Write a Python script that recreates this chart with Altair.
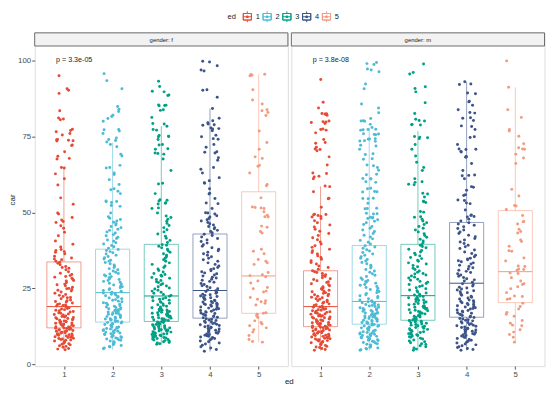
import math
import altair as alt
import pandas as pd

ED = [1, 2, 3, 4, 5]
ED_LABELS = ["1", "2", "3", "4", "5"]
COLORS = ["#E64B35", "#4DBBD5", "#00A087", "#3C5488", "#F39B7F"]
GENDERS = ["gender: f", "gender: m"]
P_TEXT = ["p = 3.3e-05", "p = 3.8e-08"]

# ---------------- gender f : car values per education level ----------------
f_ed1 = [5.0, 5.2, 4.8, 5.6, 6.1, 6.4, 6.8, 7.0, 7.3, 7.5, 7.7, 7.9, 5.9, 6.6,
         8.0, 8.2, 8.3, 8.5, 8.6, 8.8, 8.9, 9.0, 9.1, 9.3, 9.4, 9.6, 9.7, 9.8, 10.0, 10.1, 10.2, 10.4, 10.5, 10.6,
         10.8, 10.9, 11.0, 11.1, 11.3, 11.4, 11.5, 11.7, 11.8, 11.9,
         12.0, 12.1, 12.3, 12.4, 12.6, 12.7, 12.9, 13.0, 13.1, 13.3, 13.5, 13.6, 13.8, 13.9, 14.0, 14.2, 14.3,
         14.5, 14.7, 14.8, 15.0, 15.1, 15.3, 15.4, 15.6, 15.7, 15.9, 16.0,
         16.2, 16.4, 16.6, 16.8, 17.0, 17.2, 17.4, 17.6, 17.8, 18.0, 18.2, 18.4, 18.6, 18.8, 19.0, 19.2, 19.4,
         19.5, 19.7, 19.9,
         20.2, 20.5, 20.9, 21.2, 21.6, 22.0, 22.3, 22.7, 23.0, 23.4, 23.8, 24.1, 24.4, 24.6, 24.9, 25.0, 20.7, 21.9,
         25.4, 25.9, 26.4, 26.9, 27.4, 27.9, 28.3, 28.7, 29.2, 29.6, 30.0, 26.2, 27.6, 28.9,
         30.5, 31.1, 31.6, 32.2, 32.8, 33.3, 33.9, 34.4, 35.0, 31.9, 33.6, 34.7,
         35.6, 36.4, 37.1, 37.8, 38.6, 36.9, 37.5,
         39.5, 40.6, 42.3, 43.5, 44.8, 45.6, 46.7, 47.5, 48.3, 47.0,
         49.5, 49.8, 52.7, 54.8, 59.0, 61.1, 62.7, 64.6, 64.8, 67.6, 67.8, 68.5, 70.0, 72.0, 72.2, 73.5, 73.6,
         73.8, 73.9, 74.0, 75.5, 76.0, 76.6, 77.0, 77.4, 80.5, 80.8, 81.1, 83.5, 89.2, 90.2, 90.7, 95.0]

f_ed2 = [5.1, 5.4, 5.7, 5.9, 6.2, 6.5, 6.7, 7.0, 7.2, 7.4, 7.7, 7.9, 8.1, 8.3, 8.5, 8.7, 8.8, 9.0,
         9.1, 9.3, 9.4, 9.6, 9.8, 9.9, 10.1, 10.3, 10.4, 10.6, 10.8, 10.9, 11.1, 11.3, 11.4, 11.6, 11.8, 11.9,
         12.1, 12.3, 12.4, 12.6, 12.8, 12.9, 13.1, 13.3, 13.4, 13.6, 13.8, 13.9,
         14.1, 14.2, 14.4, 14.6, 14.7, 14.9, 15.0, 15.2, 15.4, 15.5, 15.7, 15.9, 16.0, 16.2, 16.4, 16.5, 16.7,
         16.8, 17.0, 17.2, 17.3, 17.5, 17.7, 17.8, 18.0, 18.2, 18.3, 18.5, 18.7, 18.9,
         19.1, 19.3, 19.6, 19.8, 20.1, 20.3, 20.6, 20.8, 21.1, 21.3, 21.6, 21.8, 22.1, 22.3, 22.6, 22.8, 23.1,
         23.3, 23.5, 23.7, 23.9, 24.0,
         24.3, 24.6, 24.9, 25.2, 25.5, 25.8, 26.1, 26.4, 26.7, 27.0, 27.3, 27.6, 27.9, 28.2, 28.5, 28.8, 29.1,
         29.4, 29.7, 29.9,
         30.3, 30.7, 31.1, 31.5, 31.9, 32.3, 32.7, 33.1, 33.5, 33.9, 34.3, 34.7, 35.1, 35.5, 35.9, 36.3, 36.7,
         37.1, 37.5, 37.8,
         38.2, 38.7, 39.1, 39.6, 40.0, 40.5, 40.9, 41.4, 41.8, 42.3, 42.7, 43.2, 43.6, 44.1, 44.5, 45.0, 45.4,
         45.9, 46.3, 46.8, 47.2, 47.7, 48.1, 48.6,
         49.8, 52.0, 52.3, 53.3, 53.5, 53.6, 53.8, 56.2, 57.0, 57.5, 57.8, 59.2, 60.8, 62.5, 63.0, 64.6, 64.8,
         65.5, 68.6, 69.2, 71.6, 72.4, 73.2, 73.7, 74.0, 74.5, 76.0, 76.8, 77.2, 77.3, 80.0, 80.9, 81.6, 82.0,
         83.2, 84.0, 84.9, 90.7, 93.4, 95.7]

f_ed3 = [6.6, 6.8, 7.0, 7.2, 7.4, 7.6, 7.8, 8.0, 8.2, 8.3, 8.5, 8.7, 8.8, 9.0, 9.1, 9.3, 9.4, 9.6, 9.7,
         9.8, 9.9, 10.0,
         10.1, 10.2, 10.3, 10.5, 10.6, 10.7, 10.9, 11.0, 11.1, 11.3, 11.4, 11.6, 11.7, 11.8, 12.0, 12.1, 12.3,
         12.4, 12.5, 12.7, 12.8, 13.0, 13.1, 13.2, 13.4, 13.5, 13.6, 13.8, 13.9, 14.0,
         14.1, 14.3, 14.4, 14.6, 14.7, 14.9, 15.0, 15.2, 15.3, 15.5, 15.6, 15.8, 15.9, 16.1, 16.2, 16.4, 16.5,
         16.7, 16.8, 17.0, 17.1, 17.3, 17.4, 17.6, 17.8, 17.9,
         18.1, 18.4, 18.6, 18.9, 19.1, 19.4, 19.6, 19.9, 20.1, 20.4, 20.6, 20.9, 21.1, 21.4, 21.6, 21.9, 22.1, 22.4,
         22.7, 23.0, 23.4, 23.7, 24.1, 24.4, 24.8, 25.1, 25.5, 25.8, 26.2, 26.5, 26.9, 27.2, 27.6, 27.9, 28.3,
         28.6, 29.0, 29.3, 29.6, 29.9,
         30.4, 30.9, 31.4, 31.9, 32.4, 32.9, 33.4, 33.9, 34.4, 34.9, 35.4, 35.9, 36.4, 36.9, 37.4, 37.9, 38.4,
         38.9, 39.2, 39.4,
         40.1, 40.8, 41.5, 42.2, 42.9, 43.6, 44.3, 45.0, 45.7, 46.4, 47.1, 47.8, 48.3, 48.8,
         49.8, 51.3, 51.5, 53.0, 52.8, 53.2, 54.0, 54.2, 53.8, 56.2, 59.4, 59.6, 63.8, 67.6, 69.4, 69.2, 69.6,
         70.8, 71.0, 72.4, 72.2, 74.0, 75.1, 75.3, 74.9, 75.0, 77.3, 77.1, 78.4, 79.3, 79.1, 81.3, 83.8, 83.6,
         85.3, 85.1, 85.4, 85.2, 88.7, 88.5, 89.7, 89.9, 91.5, 93.2]

f_ed4 = [4.3, 4.9, 5.4, 5.8, 6.3, 6.7, 7.0, 7.4, 7.7, 8.0, 8.3, 8.5, 8.8, 9.0,
         9.2, 9.4, 9.6, 9.8, 10.0, 10.2, 10.4, 10.6, 10.8, 11.0, 11.2, 11.4, 11.6, 11.8, 12.0, 12.2, 12.4, 12.6,
         12.8, 13.0, 13.2, 13.4, 13.6, 13.8, 14.0, 14.2, 14.4, 14.6, 14.8, 15.0,
         15.3, 15.5, 15.7, 15.9, 16.1, 16.3, 16.5, 16.7, 16.9, 17.1, 17.3, 17.5, 17.7, 17.9, 18.1, 18.3, 18.5,
         18.7, 18.9, 19.1, 19.3, 19.5, 19.7, 19.8, 19.9,
         20.1, 20.3, 20.5, 20.7, 20.9, 21.1, 21.3, 21.5, 21.7, 21.9, 22.1, 22.3, 22.5, 22.7, 22.9, 23.1, 23.4,
         23.7, 24.0, 24.2,
         24.5, 24.9, 25.2, 25.6, 25.9, 26.3, 26.6, 27.0, 27.3, 27.7, 28.0, 28.4, 28.7, 29.1, 29.4, 29.8, 30.1,
         30.5, 30.8, 31.2, 31.5, 31.9,
         32.4, 32.9, 33.4, 33.9, 34.4, 34.9, 35.4, 35.9, 36.4, 36.9, 37.4, 37.9, 38.4, 38.9, 39.4, 39.9, 40.4,
         40.9, 41.4, 41.9, 42.4, 42.8,
         43.3, 43.7, 44.1, 44.6, 45.0, 45.4, 45.9, 46.3, 46.7, 47.2, 47.6, 48.0, 48.5, 48.9,
         49.5, 49.8, 49.9, 51.3, 52.9, 53.1, 54.6, 56.1, 56.3, 57.8, 59.6, 59.8, 60.4, 61.4, 63.0, 64.2, 64.8,
         67.2, 68.0, 69.6, 69.8, 70.0, 71.5, 72.4, 74.1, 74.3, 74.9, 75.4, 76.9, 77.5, 77.6, 77.8, 78.7, 78.9,
         79.1, 79.5, 80.2, 81.0, 84.2, 87.9, 90.2, 90.4, 96.6, 96.9, 98.3, 99.5, 99.8]

f_ed5 = [95.0, 95.2, 95.4, 95.5, 90.4, 87.0, 85.7, 83.8, 83.5, 82.9, 81.9, 76.8, 73.0, 70.8, 68.3, 67.8,
         65.5, 65.2, 63.0, 58.8, 59.2, 54.8, 51.3, 51.5, 50.2, 48.6,
         51.6, 51.8, 49.1, 48.5, 45.5, 45.1, 43.7, 43.2, 37.9, 37.2, 36.4, 33.9, 33.4, 32.9, 29.2, 28.8, 27.4,
         26.8, 24.9, 24.1, 23.8, 22.0, 21.4, 20.9, 20.1, 19.5, 16.8, 16.5, 16.0, 15.4, 14.3, 13.8, 13.3, 12.7,
         11.4, 10.6, 9.5, 7.5, 7.3, 17.0, 29.5, 30.2, 25.3, 34.5, 20.6, 12.0, 8.2]

# ---------------- gender m : car values per education level ----------------
m_ed1 = [4.6, 4.9, 5.2, 5.5, 5.7, 5.9, 6.2, 6.4, 6.6, 6.9, 7.1, 7.3, 7.5, 7.7, 7.8, 8.0,
         8.1, 8.3, 8.4, 8.6, 8.7, 8.9, 9.0, 9.2, 9.3, 9.5, 9.6, 9.8, 9.9, 10.1, 10.2, 10.4, 10.5, 10.7, 10.8,
         11.0, 11.1, 11.3, 11.4, 11.6, 11.7, 11.9, 12.0, 12.1, 12.2, 12.3,
         12.5, 12.6, 12.8, 12.9, 13.1, 13.2, 13.4, 13.5, 13.7, 13.8, 14.0, 14.1, 14.3, 14.4, 14.6, 14.7, 14.9,
         15.0, 15.2, 15.3, 15.5, 15.6, 15.8, 15.9, 16.0,
         16.1, 16.3, 16.5, 16.6, 16.8, 17.0, 17.1, 17.3, 17.5, 17.6, 17.8, 18.0, 18.1, 18.3, 18.5, 18.6, 18.8, 18.9,
         19.1, 19.4, 19.6, 19.9, 20.1, 20.4, 20.6, 20.9, 21.1, 21.4, 21.6, 21.9, 22.1, 22.4, 22.6, 22.9, 23.1,
         23.4, 23.6, 23.9, 24.1, 24.4, 24.6, 24.9,
         25.2, 25.5, 25.9, 26.2, 26.5, 26.9, 27.2, 27.5, 27.9, 28.2, 28.5, 28.9, 29.2, 29.5, 29.9, 30.2, 30.5, 30.8,
         31.3, 31.9, 32.4, 33.0, 33.5, 34.1, 34.6, 35.2, 35.7, 36.3, 36.8, 37.4, 37.9, 38.5, 39.0, 39.6,
         40.3, 41.0, 41.7, 42.4, 43.1, 43.8, 44.5, 45.2, 45.9, 46.6, 47.3, 48.0,
         48.5, 48.7, 49.0, 49.2, 49.3, 49.4, 51.7, 54.5, 54.7, 56.8, 58.5, 58.7, 61.1, 61.7, 61.9, 62.8, 63.0,
         65.6, 68.3, 70.3, 70.7, 70.9, 71.5, 72.8, 73.0, 74.0, 76.2, 77.1, 77.3, 77.5, 79.3, 79.6, 79.8, 79.9,
         80.1, 82.0, 82.2, 82.4, 82.5, 82.6, 84.4, 86.3, 93.8]

m_ed2 = [4.6, 4.8, 5.0, 5.2, 5.4, 5.6, 5.8, 6.0, 6.2, 6.4, 6.6, 6.8, 7.0, 7.2, 7.4, 7.6, 7.8, 7.9,
         8.1, 8.2, 8.4, 8.6, 8.7, 8.9, 9.0, 9.2, 9.4, 9.5, 9.7, 9.9, 10.0, 10.2, 10.3, 10.5, 10.7, 10.8, 11.0,
         11.2, 11.3, 11.5, 11.6, 11.8, 12.0, 12.1, 12.3, 12.5, 12.6, 12.8, 12.9, 13.1,
         13.3, 13.5, 13.6, 13.8, 13.9, 14.1, 14.2, 14.4, 14.5, 14.7, 14.8, 15.0, 15.1, 15.3, 15.4, 15.6, 15.7,
         15.9, 16.0, 16.2, 16.3, 16.5, 16.6, 16.8, 16.9,
         17.1, 17.3, 17.5, 17.7, 17.9, 18.0, 18.2, 18.4, 18.6, 18.8, 19.0, 19.2, 19.4, 19.5, 19.7, 19.9, 20.1,
         20.3, 20.5, 20.6,
         20.9, 21.2, 21.6, 21.9, 22.3, 22.6, 22.9, 23.3, 23.6, 24.0, 24.3, 24.6, 25.0, 25.3, 25.6, 26.0, 26.3,
         26.7, 27.0, 27.3, 27.6, 27.9,
         28.4, 28.9, 29.3, 29.8, 30.3, 30.7, 31.2, 31.7, 32.1, 32.6, 33.1, 33.5, 34.0, 34.5, 34.9, 35.4, 35.9,
         36.3, 36.8, 37.3, 37.7, 38.2, 38.6, 39.0,
         39.6, 40.2, 40.8, 41.3, 41.9, 42.5, 43.1, 43.7, 44.2, 44.8, 45.4, 46.0, 46.6, 47.1, 47.6, 48.0,
         48.2, 48.3, 48.4, 49.5, 49.6, 49.7, 51.2, 51.3, 51.4, 53.0, 54.5, 54.6, 54.7, 56.7, 56.8, 56.9, 57.8,
         58.0, 59.9, 60.1, 61.0, 61.1, 61.2, 62.4, 62.6, 63.9, 64.8, 65.4, 65.6, 67.5, 67.7, 69.1, 69.3, 70.8,
         71.9, 72.1, 73.4, 73.5, 73.6, 74.1, 74.2, 74.3, 75.6, 75.7, 75.8, 75.9, 77.1, 77.2, 77.3, 77.4, 78.0,
         79.0, 80.0, 80.1, 80.2, 80.9, 82.8, 84.4, 85.7, 90.7, 92.3, 96.3, 96.9, 97.2, 98.7, 99.0, 99.4]

m_ed3 = [4.6, 5.0, 5.4, 5.8, 6.1, 6.5, 6.8, 7.1, 7.4, 7.7, 8.0, 8.3, 8.6, 8.9,
         9.1, 9.3, 9.5, 9.7, 9.9, 10.1, 10.3, 10.5, 10.7, 10.9, 11.1, 11.3, 11.5, 11.7, 11.9, 12.1, 12.3, 12.5,
         12.7, 12.9, 13.1, 13.3, 13.5, 13.7, 13.9, 14.0, 14.1, 14.2, 14.3, 14.4,
         14.6, 14.8, 15.0, 15.2, 15.4, 15.6, 15.8, 16.0, 16.2, 16.4, 16.6, 16.8, 17.0, 17.2, 17.4, 17.6, 17.8,
         18.0, 18.2, 18.4, 18.6, 18.7, 18.8, 18.9,
         19.1, 19.3, 19.6, 19.8, 20.0, 20.3, 20.5, 20.7, 21.0, 21.2, 21.4, 21.7, 21.9, 22.1, 22.3, 22.5,
         22.8, 23.1, 23.5, 23.8, 24.2, 24.5, 24.9, 25.2, 25.6, 25.9, 26.3, 26.6, 27.0, 27.3, 27.7, 28.0, 28.4,
         28.7, 29.1, 29.4, 29.7, 29.9,
         30.3, 30.7, 31.2, 31.6, 32.1, 32.5, 33.0, 33.4, 33.9, 34.3, 34.8, 35.2, 35.7, 36.1, 36.6, 37.0, 37.5,
         37.9, 38.4, 38.8, 39.2, 39.4,
         40.0, 40.6, 41.2, 41.8, 42.4, 43.0, 43.6, 44.2, 44.8, 45.4, 46.0, 46.6, 47.2, 47.8,
         48.4, 48.6, 50.1, 50.3, 53.3, 53.5, 53.7, 55.1, 56.1, 56.3, 59.1, 59.3, 59.9, 60.1, 61.1, 63.8, 64.8,
         66.5, 68.6, 70.8, 72.4, 74.3, 74.6, 74.8, 75.0, 78.8, 78.9, 79.0, 80.1, 80.3, 80.7, 82.6, 86.1, 89.7,
         90.8, 91.4, 95.6, 96.1, 98.9]

m_ed4 = [4.6, 4.9, 5.2, 5.5, 5.8, 6.1, 6.4, 6.7, 7.0, 7.3, 7.6, 7.9, 8.2, 8.5, 8.8, 9.0, 9.3, 9.5, 9.7, 9.9,
         10.1, 10.3, 10.5, 10.7, 10.9, 11.1, 11.3, 11.5, 11.7, 11.9, 12.1, 12.3, 12.5, 12.7, 12.9, 13.1, 13.4,
         13.6, 13.8, 14.0, 14.3, 14.5, 14.7, 14.9, 15.1, 15.4,
         15.6, 15.8, 16.1, 16.3, 16.5, 16.8, 17.0, 17.2, 17.5, 17.7, 17.9, 18.2, 18.4, 18.6, 18.9, 19.1, 19.3,
         19.6, 19.8, 20.0, 20.3, 20.5, 20.7, 20.9,
         21.2, 21.5, 21.8, 22.1, 22.4, 22.7, 23.0, 23.3, 23.6, 23.9, 24.2, 24.5, 24.8, 25.1, 25.4, 25.8, 26.2, 26.5,
         27.0, 27.4, 27.8, 28.2, 28.6, 29.0, 29.4, 29.8, 30.2, 30.6, 31.0, 31.4, 31.8, 32.2, 32.6, 33.0, 33.4,
         33.8, 34.1, 34.4, 34.7, 34.9,
         35.4, 35.9, 36.5, 37.0, 37.6, 38.1, 38.7, 39.2, 39.8, 40.3, 40.9, 41.4, 42.0, 42.5, 43.1, 43.6, 44.2,
         44.7, 45.3, 45.8, 46.2, 46.6,
         47.2, 47.8, 48.5, 48.7, 49.0, 49.2, 50.8, 52.9, 53.1, 53.9, 54.1, 55.6, 55.8, 57.3, 58.3, 58.5, 61.1,
         62.1, 62.2, 62.3, 63.8, 66.1, 68.2, 68.3, 68.4, 69.9, 70.1, 70.7, 70.8, 70.9, 72.4, 74.7, 74.9, 77.3,
         78.3, 78.5, 80.3, 81.0, 81.2, 82.7, 82.9, 83.8, 85.3, 86.4, 86.6, 89.1, 89.3, 92.1, 92.3, 93.0]

m_ed5 = [99.9, 91.2, 83.8, 81.3, 77.3, 76.8, 75.1, 72.6, 71.3, 70.8, 70.9, 69.2, 67.9, 66.1, 57.6, 55.4,
         52.1, 52.3, 51.0, 46.9, 47.0, 46.2, 43.7, 43.2, 40.9, 40.4, 37.2, 37.4, 35.0, 32.2, 32.4, 31.2, 31.0,
         31.4, 29.9, 30.1, 27.4, 26.3, 26.5, 24.9, 23.6, 22.3, 22.5, 21.4, 21.6, 20.1, 19.0, 17.1, 15.8, 14.4,
         12.7, 12.9, 11.4, 10.6, 8.9, 7.3, 28.5, 25.5, 18.2, 16.5, 13.5, 9.8, 34.0, 38.9, 44.5, 49.0]

# ---------------- box statistics ----------------
F_LO = [4.6, 4.8, 6.5, 4.2, 7.3]
F_Q1 = [12.0, 13.9, 14.1, 15.2, 16.8]
F_MED = [19.0, 23.6, 22.5, 24.3, 29.1]
F_Q3 = [33.7, 37.9, 39.5, 42.9, 56.8]
F_HI = [64.8, 73.0, 78.4, 84.2, 95.5]

M_LO = [4.5, 4.5, 4.5, 4.5, 7.0]
M_Q1 = [12.4, 13.2, 14.5, 15.5, 20.3]
M_MED = [19.0, 20.7, 22.6, 26.7, 30.5]
M_Q3 = [30.8, 39.1, 39.5, 46.7, 50.6]
M_HI = [58.6, 77.9, 76.8, 93.0, 91.2]

# ---------------- layout constants ----------------
W = 256
H = 337
STRIP_H = 13.3
LEGEND_GAP = 22.5
XDOM = [0.4, 5.6]
Y_LOW, Y_PLOT_TOP = -0.6, 104.8
PX_PER_UNIT = (H - STRIP_H) / (Y_PLOT_TOP - Y_LOW)
YDOM = [Y_LOW, Y_PLOT_TOP + STRIP_H / PX_PER_UNIT]
BORDER = "#6b6b6b"
FONT = "Liberation Sans"
# box outline drawn twice in opposite directions so that it has no fill area,
# whiskers and median as open strokes, and a small filled dot in the middle
SYMBOL = ("M-0.75,-0.6H0.75V0.6H-0.75Z M-0.75,-0.6V0.6H0.75V-0.6Z "
          "M0,-1V-0.6 M0,0.6V1 M-0.75,0H0.75 M-0.15,-0.15H0.15V0.15H-0.15Z")


def points_frame(groups):
    rows = []
    for ed, lab, vals in zip(ED, ED_LABELS, groups):
        for i, v in enumerate(vals):
            h = math.sin(i * 12.9898 + ed * 78.233) * 43758.5453
            jit = ((h - math.floor(h)) - 0.5) * 0.4
            rows.append({"ed": ed, "edp": lab, "car": v, "jit": jit})
    return pd.DataFrame(rows)


def box_frame(lo, q1, med, q3, hi):
    return pd.DataFrame({"ed": ED, "edc": ED_LABELS, "lo": lo, "q1": q1,
                         "med": med, "q3": q3, "hi": hi})


stroke_scale = alt.Scale(domain=ED_LABELS, range=COLORS)
legend = alt.Legend(
    title="ed", orient="none", legendX=195, legendY=-LEGEND_GAP, direction="horizontal",
    titleOrient="left", symbolType=SYMBOL, symbolSize=121, symbolStrokeWidth=1,
    symbolFillColor="transparent", labelFontSize=7.5, titleFontSize=7.5,
    titleFontWeight="normal", titleColor="#222222", labelColor="#222222",
    labelOffset=2.5, columnPadding=0, titlePadding=5)


def panel(idx, groups, box, show_y):
    xs = alt.Scale(domain=XDOM, nice=False, zero=False)
    ys = alt.Scale(domain=YDOM, nice=False, zero=False)
    xaxis = alt.Axis(values=ED, format="d", grid=False, domain=False, tickSize=3,
                     tickColor="#555555", labelColor="#4d4d4d", labelFontSize=8,
                     labelPadding=1, title="ed" if show_y else None, titleFontSize=8,
                     titleFontWeight="normal", titleColor="#222222", titleX=W + 1,
                     titlePadding=0)
    if show_y:
        yaxis = alt.Axis(values=[0, 25, 50, 75, 100], grid=False, domain=False, tickSize=3,
                         tickColor="#555555", labelColor="#4d4d4d", labelFontSize=8,
                         labelPadding=1, title="car", titleFontSize=8,
                         titleFontWeight="normal", titleColor="#222222", titlePadding=1)
    else:
        yaxis = None

    def X(f):
        return alt.X(f, type="quantitative", scale=xs, axis=xaxis)

    def Y(f):
        return alt.Y(f, type="quantitative", scale=ys, axis=yaxis)

    def S():
        return alt.Stroke("edc:N", scale=stroke_scale, legend=legend)

    pts = points_frame(groups)
    label_df = pd.DataFrame({"s": [GENDERS[idx]], "p": [P_TEXT[idx]]})

    strip = alt.Chart(label_df).mark_rect(fill="#F2F2F2", stroke=BORDER, strokeWidth=1).encode(
        x=alt.value(0), x2=alt.value(W), y=alt.value(0), y2=alt.value(STRIP_H))
    strip_text = alt.Chart(label_df).mark_text(fontSize=6, color="#1a1a1a", font=FONT).encode(
        x=alt.value(W / 2), y=alt.value(STRIP_H / 2 + 0.3), text="s:N")

    bx = alt.Chart(box).transform_calculate(x0="datum.ed - 0.35", x1="datum.ed + 0.35")
    light = dict(strokeWidth=1, strokeOpacity=0.55)
    whisk_lo = bx.mark_rule(**light).encode(x=X("ed"), y=Y("lo"), y2="q1", stroke=S())
    whisk_hi = bx.mark_rule(**light).encode(x=X("ed"), y=Y("q3"), y2="hi", stroke=S())
    box_bottom = bx.mark_rule(**light).encode(x=X("x0"), x2="x1", y=Y("q1"), stroke=S())
    box_top = bx.mark_rule(**light).encode(x=X("x0"), x2="x1", y=Y("q3"), stroke=S())
    box_left = bx.mark_rule(**light).encode(x=X("x0"), y=Y("q1"), y2="q3", stroke=S())
    box_right = bx.mark_rule(**light).encode(x=X("x1"), y=Y("q1"), y2="q3", stroke=S())
    medians = bx.mark_rule(strokeWidth=1).encode(x=X("x0"), x2="x1", y=Y("med"), stroke=S())

    points = alt.Chart(pts).transform_calculate(px="datum.ed + datum.jit").mark_circle(
        size=9, opacity=1).encode(
        x=X("px"), y=Y("car"),
        color=alt.Color("edp:N", scale=alt.Scale(domain=ED_LABELS, range=COLORS), legend=None))
    ptext = alt.Chart(label_df).mark_text(align="left", fontSize=7.2, color="#1a1a1a", font=FONT).encode(
        x=alt.datum(0.84), y=alt.datum(100.3), text="p:N")

    return alt.layer(whisk_lo, whisk_hi, box_bottom, box_top, box_left, box_right, medians,
                     points, ptext, strip, strip_text).properties(width=W, height=H)


left = panel(0, [f_ed1, f_ed2, f_ed3, f_ed4, f_ed5], box_frame(F_LO, F_Q1, F_MED, F_Q3, F_HI), True)
right = panel(1, [m_ed1, m_ed2, m_ed3, m_ed4, m_ed5], box_frame(M_LO, M_Q1, M_MED, M_Q3, M_HI), False)

chart = alt.hconcat(
    left, right, spacing=3.5, bounds="flush",
    padding={"left": 0, "top": 0, "right": 0, "bottom": 0}
).resolve_scale(stroke="shared", color="shared").configure_view(
    stroke=BORDER, strokeWidth=1).configure(font=FONT)

chart.save("out.html", embed_options={"renderer": "svg", "actions": False})
